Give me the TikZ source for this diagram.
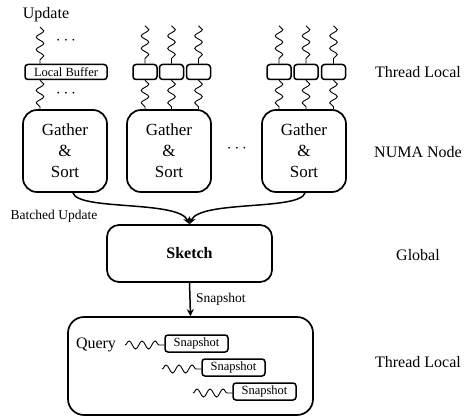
\documentclass[tikz,border=0pt]{standalone}
\usepackage{fontspec}
\setmainfont{Liberation Serif}
\usetikzlibrary{decorations.pathmorphing,arrows.meta,calc}
\begin{document}
\begin{tikzpicture}[x=1pt,y=-1pt,
  bigbox/.style={draw,line width=1.7pt,rounded corners=14pt,inner sep=0pt,align=center},
  gbox/.style={bigbox,minimum width=84pt,minimum height=82pt,font=\fontsize{17}{21}\selectfont},
  buf/.style={draw,line width=1.5pt,rounded corners=3pt,inner sep=0pt,minimum height=15pt},
  snapbox/.style={buf,minimum width=63pt,minimum height=17pt,font=\fontsize{12.5}{14}\selectfont},
  wig/.style={line width=0.9pt,decorate,decoration={snake,segment length=12.5pt,amplitude=3.8pt}},
  hwig/.style={line width=0.9pt,decorate,decoration={snake,segment length=13pt,amplitude=4pt}},
  lab/.style={font=\fontsize{16}{18}\selectfont},
  arr/.style={line width=1.5pt,-{Stealth[length=7pt,width=7pt]}}
]
\useasboundingbox (0,0) rectangle (474,417);
% NUMA boxes
\node[gbox] (g1) at (65,151) {Gather\\\&\\Sort};
\node[gbox] (g2) at (169,151) {Gather\\\&\\Sort};
\node[gbox] (g3) at (304,151) {Gather\\\&\\Sort};
\node[lab] (dm) at (237,149) {$\cdots$};
% buffers
\node[buf,minimum width=82pt,font=\fontsize{12.5}{14}\selectfont] (lb) at (66,72) {Local Buffer};
\node[buf,minimum width=24pt] (b21) at (145,72) {};
\node[buf,minimum width=24pt] (b22) at (171.5,72) {};
\node[buf,minimum width=24pt] (b23) at (198.5,72) {};
\node[buf,minimum width=24pt] (b31) at (279,72) {};
\node[buf,minimum width=24pt] (b32) at (306,72) {};
\node[buf,minimum width=24pt] (b33) at (333.5,72) {};
% update text & dots
\node[lab] (upd) at (46,15) {Update};
\node[lab] (d1) at (66,41) {$\cdots$};
\node[lab] (d2) at (66,94) {$\cdots$};
% squiggles
\coordinate (u1) at (40,27);
\draw[wig] (u1) -- (u1 |- lb.north);
\draw[wig] (u1 |- lb.south) -- (u1 |- g1.north);
\foreach \b/\g in {b21/g2,b22/g2,b23/g2,b31/g3,b32/g3,b33/g3}{
  \coordinate (t\b) at ($(\b.north)+(0,-38)$);
  \draw[wig] (t\b) -- (\b.north);
  \draw[wig] (\b.south) -- (\b.south |- \g.north);
}
% sketch
\node[bigbox,minimum width=165pt,minimum height=57pt,rounded corners=12pt,font=\fontsize{16}{18}\selectfont\bfseries] (sk) at (189.5,253.5) {Sketch};
\coordinate (o1) at ($(g1.south)+(8,0)$);
\coordinate (o3) at ($(g3.south)+(1,0)$);
\draw[arr] (o1) .. controls ($(o1)+(5,18)$) and (178,200) .. (sk.north);
\draw[arr] (o3) .. controls ($(o3)+(-5,18)$) and (200,200) .. (sk.north);
\node[font=\fontsize{13.5}{15}\selectfont] (bu) at (54,216) {Batched Update};
% query
\node[bigbox,minimum width=245pt,minimum height=98pt,rounded corners=16pt] (q) at (190.5,366) {};
\draw[arr] (sk.south) -- node[right,xshift=2pt,font=\fontsize{13.5}{15}\selectfont] {Snapshot} (q.north);
\node[lab] (qt) at (96,345) {Query};
\node[snapbox] (s1) at (196.5,343.5) {Snapshot};
\node[snapbox] (s2) at (233.5,367.5) {Snapshot};
\node[snapbox] (s3) at (264.5,391.5) {Snapshot};
\coordinate (w1) at (125,345);
\coordinate (w2) at (162,369);
\coordinate (w3) at (193,393);
\draw[hwig] (w1) -- (w1 -| s1.west);
\draw[hwig] (w2) -- (w2 -| s2.west);
\draw[hwig] (w3) -- (w3 -| s3.west);
% right labels
\node[lab] (l1) at (418,72) {Thread Local};
\node[lab] (l2) at (418,152) {NUMA Node};
\node[lab] (l3) at (418,255) {Global};
\node[lab] (l4) at (418,362) {Thread Local};
\end{tikzpicture}
\end{document}
